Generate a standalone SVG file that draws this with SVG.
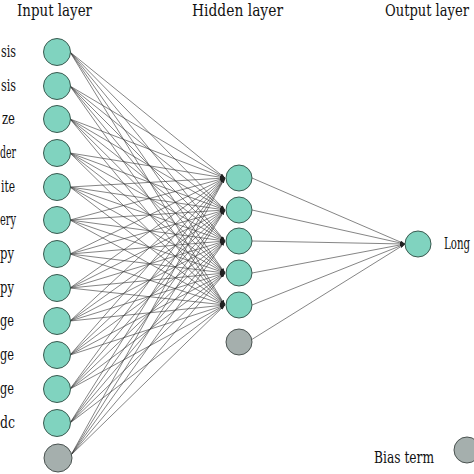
<svg xmlns="http://www.w3.org/2000/svg" width="474" height="474" viewBox="0 0 474 474">
<style>
text{font-family:"DejaVu Serif","Liberation Serif",serif;font-size:16px;fill:#111}
.t{font-size:17px}
.n{fill:#80d3bf;stroke:#3a5a50;stroke-width:1}
.b{fill:#a5afad;stroke:#4a5250;stroke-width:1}
#connectors line{stroke:#333;stroke-width:0.6;marker-end:url(#arr)}
</style>
<defs>
<marker id="arr" markerUnits="userSpaceOnUse" markerWidth="5" markerHeight="3" refX="5" refY="1.5" orient="auto">
<path d="M0,0 L5,1.5 L0,3 Z" fill="#222"/>
</marker>
</defs>
<rect width="474" height="474" fill="#fff"/>
<text class="t" x="17" y="16" textLength="75" lengthAdjust="spacingAndGlyphs">Input layer</text>
<text class="t" x="192" y="16" textLength="91" lengthAdjust="spacingAndGlyphs">Hidden layer</text>
<text class="t" x="385" y="16" textLength="84" lengthAdjust="spacingAndGlyphs">Output layer</text>
<g id="connectors">
<line x1="70" y1="52" x2="225" y2="178"/><line x1="70" y1="52" x2="225" y2="210"/><line x1="70" y1="52" x2="225" y2="241"/><line x1="70" y1="52" x2="225" y2="273"/><line x1="70" y1="52" x2="225" y2="305"/>
<line x1="70" y1="86" x2="225" y2="178"/><line x1="70" y1="86" x2="225" y2="210"/><line x1="70" y1="86" x2="225" y2="241"/><line x1="70" y1="86" x2="225" y2="273"/><line x1="70" y1="86" x2="225" y2="305"/>
<line x1="70" y1="119" x2="225" y2="178"/><line x1="70" y1="119" x2="225" y2="210"/><line x1="70" y1="119" x2="225" y2="241"/><line x1="70" y1="119" x2="225" y2="273"/><line x1="70" y1="119" x2="225" y2="305"/>
<line x1="70" y1="153" x2="225" y2="178"/><line x1="70" y1="153" x2="225" y2="210"/><line x1="70" y1="153" x2="225" y2="241"/><line x1="70" y1="153" x2="225" y2="273"/><line x1="70" y1="153" x2="225" y2="305"/>
<line x1="70" y1="187" x2="225" y2="178"/><line x1="70" y1="187" x2="225" y2="210"/><line x1="70" y1="187" x2="225" y2="241"/><line x1="70" y1="187" x2="225" y2="273"/><line x1="70" y1="187" x2="225" y2="305"/>
<line x1="70" y1="220" x2="225" y2="178"/><line x1="70" y1="220" x2="225" y2="210"/><line x1="70" y1="220" x2="225" y2="241"/><line x1="70" y1="220" x2="225" y2="273"/><line x1="70" y1="220" x2="225" y2="305"/>
<line x1="70" y1="254" x2="225" y2="178"/><line x1="70" y1="254" x2="225" y2="210"/><line x1="70" y1="254" x2="225" y2="241"/><line x1="70" y1="254" x2="225" y2="273"/><line x1="70" y1="254" x2="225" y2="305"/>
<line x1="70" y1="288" x2="225" y2="178"/><line x1="70" y1="288" x2="225" y2="210"/><line x1="70" y1="288" x2="225" y2="241"/><line x1="70" y1="288" x2="225" y2="273"/><line x1="70" y1="288" x2="225" y2="305"/>
<line x1="70" y1="321" x2="225" y2="178"/><line x1="70" y1="321" x2="225" y2="210"/><line x1="70" y1="321" x2="225" y2="241"/><line x1="70" y1="321" x2="225" y2="273"/><line x1="70" y1="321" x2="225" y2="305"/>
<line x1="70" y1="355" x2="225" y2="178"/><line x1="70" y1="355" x2="225" y2="210"/><line x1="70" y1="355" x2="225" y2="241"/><line x1="70" y1="355" x2="225" y2="273"/><line x1="70" y1="355" x2="225" y2="305"/>
<line x1="70" y1="389" x2="225" y2="178"/><line x1="70" y1="389" x2="225" y2="210"/><line x1="70" y1="389" x2="225" y2="241"/><line x1="70" y1="389" x2="225" y2="273"/><line x1="70" y1="389" x2="225" y2="305"/>
<line x1="70" y1="423" x2="225" y2="178"/><line x1="70" y1="423" x2="225" y2="210"/><line x1="70" y1="423" x2="225" y2="241"/><line x1="70" y1="423" x2="225" y2="273"/><line x1="70" y1="423" x2="225" y2="305"/>
<line x1="71" y1="455" x2="225" y2="178"/><line x1="71" y1="455" x2="225" y2="210"/><line x1="71" y1="455" x2="225" y2="241"/><line x1="71" y1="455" x2="225" y2="273"/><line x1="71" y1="455" x2="225" y2="305"/>
<line x1="252" y1="178" x2="405" y2="244"/><line x1="252" y1="210" x2="405" y2="244"/><line x1="252" y1="241" x2="405" y2="244"/><line x1="252" y1="273" x2="405" y2="244"/><line x1="252" y1="305" x2="405" y2="244"/><line x1="251" y1="340" x2="405" y2="244"/>
</g>
<g id="in1"><circle class="n" cx="57" cy="52" r="13.5"/><text x="1" y="57" textLength="15" lengthAdjust="spacingAndGlyphs">sis</text></g>
<g id="in2"><circle class="n" cx="57" cy="86" r="13.5"/><text x="1" y="91" textLength="15" lengthAdjust="spacingAndGlyphs">sis</text></g>
<g id="in3"><circle class="n" cx="57" cy="119" r="13.5"/><text x="2" y="124" textLength="13" lengthAdjust="spacingAndGlyphs">ze</text></g>
<g id="in4"><circle class="n" cx="57" cy="153" r="13.5"/><text x="0" y="158" textLength="16" lengthAdjust="spacingAndGlyphs">der</text></g>
<g id="in5"><circle class="n" cx="57" cy="187" r="13.5"/><text x="1" y="192" textLength="14" lengthAdjust="spacingAndGlyphs">ite</text></g>
<g id="in6"><circle class="n" cx="57" cy="220" r="13.5"/><text x="0" y="225" textLength="16" lengthAdjust="spacingAndGlyphs">ery</text></g>
<g id="in7"><circle class="n" cx="57" cy="254" r="13.5"/><text x="0" y="259" textLength="14" lengthAdjust="spacingAndGlyphs">py</text></g>
<g id="in8"><circle class="n" cx="57" cy="288" r="13.5"/><text x="0" y="293" textLength="14" lengthAdjust="spacingAndGlyphs">py</text></g>
<g id="in9"><circle class="n" cx="57" cy="321" r="13.5"/><text x="0" y="326" textLength="14" lengthAdjust="spacingAndGlyphs">ge</text></g>
<g id="in10"><circle class="n" cx="57" cy="355" r="13.5"/><text x="0" y="360" textLength="14" lengthAdjust="spacingAndGlyphs">ge</text></g>
<g id="in11"><circle class="n" cx="57" cy="389" r="13.5"/><text x="0" y="394" textLength="14" lengthAdjust="spacingAndGlyphs">ge</text></g>
<g id="in12"><circle class="n" cx="57" cy="423" r="13.5"/><text x="0" y="428" textLength="15" lengthAdjust="spacingAndGlyphs">dc</text></g>
<g id="inBias"><circle class="b" cx="58" cy="458" r="14"/></g>
<g id="h1"><circle class="n" cx="239" cy="178" r="13"/></g>
<g id="h2"><circle class="n" cx="239" cy="210" r="13"/></g>
<g id="h3"><circle class="n" cx="239" cy="241" r="13"/></g>
<g id="h4"><circle class="n" cx="239" cy="273" r="13"/></g>
<g id="h5"><circle class="n" cx="239" cy="305" r="13"/></g>
<g id="hBias"><circle class="b" cx="239" cy="342" r="13"/></g>
<g id="out"><circle class="n" cx="418" cy="244" r="13"/><text x="444" y="249" font-size="15" textLength="26" lengthAdjust="spacingAndGlyphs">Long</text></g>
<g id="legend"><text x="374" y="463" textLength="60" lengthAdjust="spacingAndGlyphs">Bias term</text><circle class="b" cx="467" cy="450" r="13"/></g>
</svg>
